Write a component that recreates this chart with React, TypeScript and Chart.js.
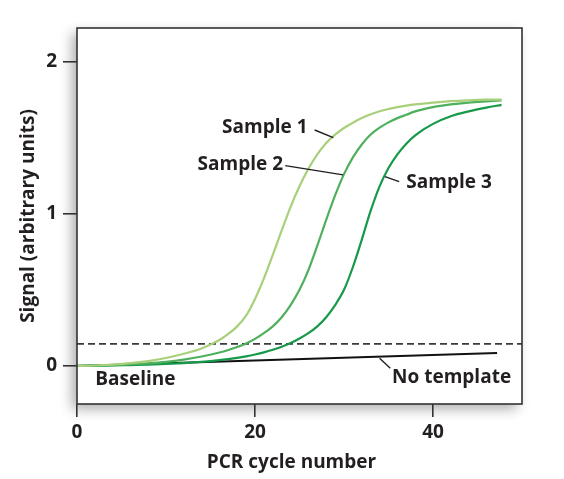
import React, { useEffect, useRef } from "react";
import { Chart, registerables } from "chart.js";

Chart.register(...registerables);

// ---- data ----
const cycles = [0, 2, 4, 6, 8, 10, 12, 14, 16, 17, 18, 19, 20, 21, 22, 23, 24, 25, 26, 27, 28, 29, 30, 31, 32, 33, 34, 35, 36, 37, 38, 40, 42, 44, 46, 47.7];

const sample1 = [0, 0.003, 0.009, 0.018, 0.032, 0.052, 0.08, 0.115, 0.17, 0.21, 0.26, 0.33, 0.44, 0.575, 0.73, 0.89, 1.045, 1.18, 1.295, 1.39, 1.465, 1.52, 1.563, 1.598, 1.628, 1.653, 1.673, 1.688, 1.7, 1.71, 1.718, 1.73, 1.739, 1.745, 1.749, 1.75];

const sample2 = [0, 0.002, 0.005, 0.01, 0.017, 0.027, 0.042, 0.062, 0.088, 0.105, 0.125, 0.148, 0.178, 0.215, 0.26, 0.32, 0.4, 0.5, 0.63, 0.79, 0.96, 1.12, 1.26, 1.37, 1.455, 1.52, 1.565, 1.6, 1.628, 1.65, 1.672, 1.7, 1.718, 1.73, 1.738, 1.744];

const sample3 = [0, 0.001, 0.003, 0.006, 0.009, 0.013, 0.019, 0.027, 0.038, 0.045, 0.053, 0.063, 0.075, 0.089, 0.106, 0.126, 0.15, 0.18, 0.215, 0.26, 0.32, 0.4, 0.5, 0.65, 0.83, 1.02, 1.18, 1.3, 1.39, 1.46, 1.515, 1.59, 1.64, 1.672, 1.697, 1.715];

const noTemplateCycles = [0, 47.2];
const noTemplate = [0, 0.085];

const thresholdCycles = [0, 50];
const threshold = [0.145, 0.145];

const xTicks = [0, 20, 40];
const yTicks = [0, 1, 2];

const seriesNames = ["Sample 1", "Sample 2", "Sample 3", "No template", "Threshold"];

// ---- styling / annotation placement ----
const FONT = "'Open Sans', 'DejaVu Sans', sans-serif";
const TEXT = "#231f20";
const colors = ["#a8d07a", "#4eb05c", "#17994a"];

type Note = { text: string; x: number; y: number; align: CanvasTextAlign; line?: [number, number, number, number] };
const notes: Note[] = [
  { text: "Sample 1", x: 25.9, y: 1.566, align: "right", line: [26.7, 1.55, 28.8, 1.5] },
  { text: "Sample 2", x: 23.15, y: 1.32, align: "right", line: [23.4, 1.316, 29.9, 1.255] },
  { text: "Sample 3", x: 37.0, y: 1.204, align: "left", line: [34.6, 1.244, 36.2, 1.211] },
  { text: "Baseline", x: 2.06, y: -0.092, align: "left" },
  { text: "No template", x: 35.4, y: -0.079, align: "left", line: [34.0, 0.051, 35.2, -0.015] },
];

const pts = (xs: number[], ys: number[]) => xs.map((x, i) => ({ x, y: ys[i] }));

const framePlugin = {
  id: "frame",
  beforeDraw(chart: any) {
    const { ctx, chartArea: a, width, height } = chart;
    ctx.save();
    ctx.fillStyle = "#fff";
    ctx.fillRect(0, 0, width, height);
    ctx.shadowColor = "rgba(0,0,0,0.32)";
    ctx.shadowBlur = 12;
    ctx.shadowOffsetX = -5;
    ctx.shadowOffsetY = 5;
    ctx.fillRect(a.left, a.top, a.right - a.left, a.bottom - a.top);
    ctx.restore();
  },
  afterDraw(chart: any) {
    const { ctx, chartArea: a } = chart;
    const xs = chart.scales.x;
    const ys = chart.scales.y;
    ctx.save();
    ctx.strokeStyle = "#333";
    ctx.lineWidth = 1.6;
    ctx.strokeRect(a.left, a.top, a.right - a.left, a.bottom - a.top);

    ctx.fillStyle = TEXT;
    ctx.strokeStyle = TEXT;
    ctx.font = `bold 19px ${FONT}`;
    ctx.textBaseline = "middle";
    notes.forEach((n) => {
      ctx.textAlign = n.align;
      ctx.fillText(n.text, xs.getPixelForValue(n.x), ys.getPixelForValue(n.y));
      if (n.line) {
        ctx.lineWidth = 1.4;
        ctx.beginPath();
        ctx.moveTo(xs.getPixelForValue(n.line[0]), ys.getPixelForValue(n.line[1]));
        ctx.lineTo(xs.getPixelForValue(n.line[2]), ys.getPixelForValue(n.line[3]));
        ctx.stroke();
      }
    });

    // x-axis title
    ctx.textAlign = "center";
    ctx.fillText("PCR cycle number", a.left + (a.right - a.left) * 0.482, 463);
    ctx.restore();
  },
};

export default function App() {
  const ref = useRef<HTMLCanvasElement>(null);

  useEffect(() => {
    if (!ref.current) return;
    const tickFont = { family: FONT, weight: "bold" as const, size: 19 };
    const curve = { borderWidth: 2.2, pointRadius: 0, cubicInterpolationMode: "monotone" as const };
    const chart = new Chart(ref.current, {
      type: "line",
      data: {
        datasets: [
          { label: seriesNames[0], data: pts(cycles, sample1), borderColor: colors[0], ...curve },
          { label: seriesNames[1], data: pts(cycles, sample2), borderColor: colors[1], ...curve },
          { label: seriesNames[2], data: pts(cycles, sample3), borderColor: colors[2], ...curve },
          { label: seriesNames[3], data: pts(noTemplateCycles, noTemplate), borderColor: "#111", borderWidth: 2, pointRadius: 0 },
          { label: seriesNames[4], data: pts(thresholdCycles, threshold), borderColor: "#3a3a3a", borderWidth: 1.6, borderDash: [7, 4], pointRadius: 0 },
        ],
      },
      options: {
        responsive: false,
        animation: false,
        devicePixelRatio: 1,
        layout: { padding: { top: 28, right: 42, left: 0, bottom: 0 } },
        plugins: { legend: { display: false }, tooltip: { enabled: false } },
        scales: {
          x: {
            type: "linear",
            min: 0,
            max: 50,
            afterBuildTicks: (s: any) => { s.ticks = xTicks.map((v) => ({ value: v })); },
            afterFit: (s: any) => { s.height = 75; },
            grid: { drawOnChartArea: false, drawTicks: true, tickLength: 13, color: "#333", lineWidth: 1.6 },
            border: { display: false },
            ticks: { font: tickFont, color: TEXT, padding: 4, maxRotation: 0, callback: (v: any) => String(v) },
          },
          y: {
            type: "linear",
            min: -0.25,
            max: 2.22,
            afterBuildTicks: (s: any) => { s.ticks = yTicks.map((v) => ({ value: v })); },
            afterFit: (s: any) => { s.width = 77; },
            grid: { drawOnChartArea: false, drawTicks: true, tickLength: 14, color: "#333", lineWidth: 1.6 },
            border: { display: false },
            ticks: { font: tickFont, color: TEXT, padding: 6, callback: (v: any) => String(v) },
            title: { display: true, text: "Signal (arbitrary units)", font: tickFont, color: TEXT, padding: { top: 17.6, bottom: 0 } },
          },
        },
      },
      plugins: [framePlugin],
    });
    return () => chart.destroy();
  }, []);

  return (
    <div style={{ position: "absolute", left: 0, top: 0, width: 564, height: 479, background: "#fff" }}>
      <canvas ref={ref} width={564} height={479} style={{ width: 564, height: 479, display: "block" }} />
    </div>
  );
}
